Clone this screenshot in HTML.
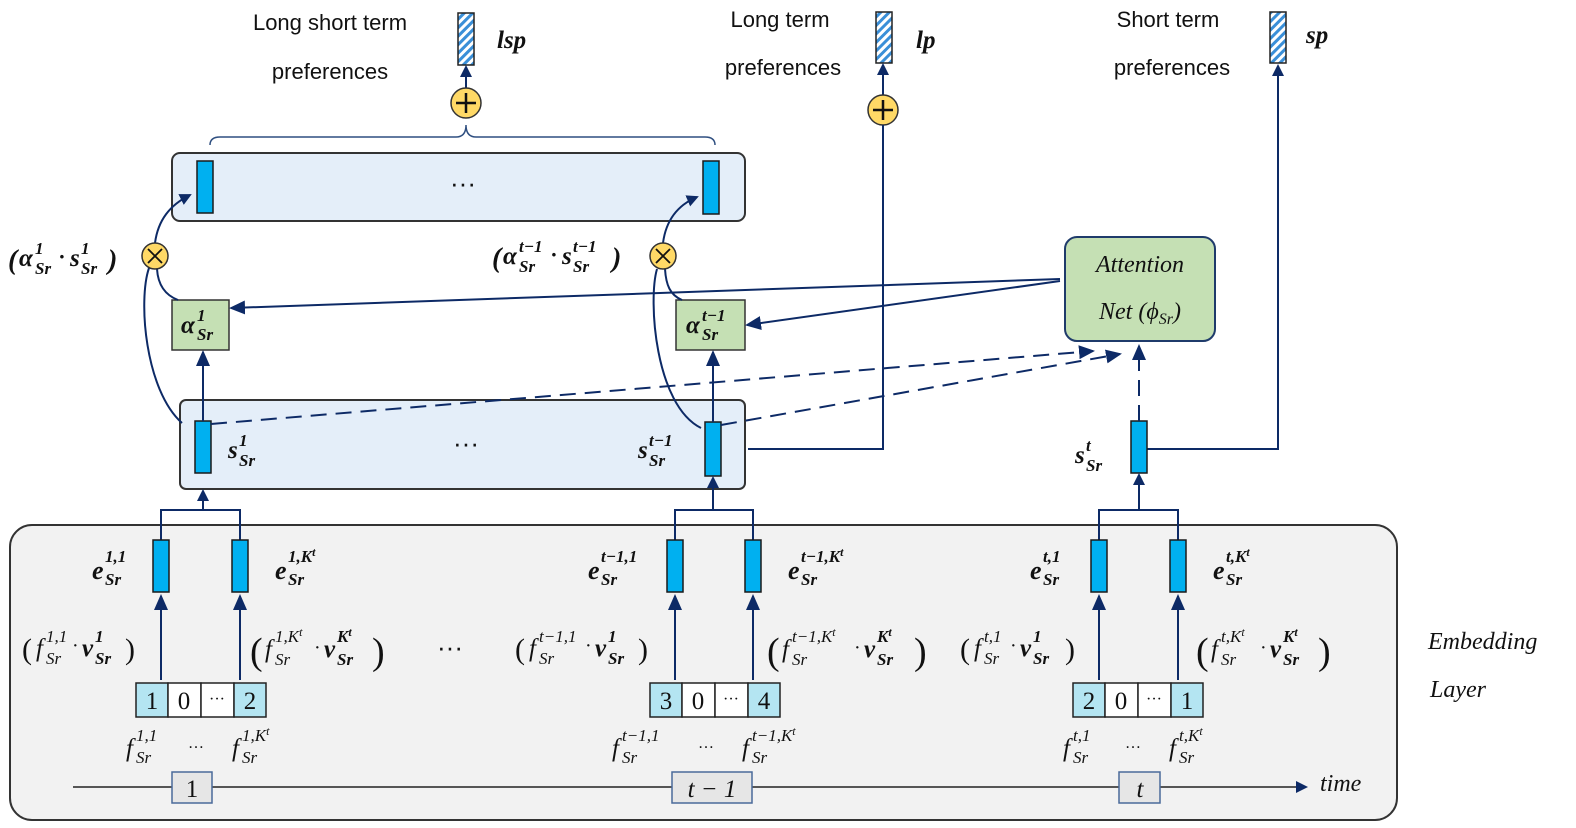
<!DOCTYPE html>
<html><head><meta charset="utf-8"><style>
html,body{margin:0;padding:0;background:#fff}
svg{display:block}
.t{font-family:"Liberation Sans",sans-serif;font-size:22px;fill:#111}
.m{font-family:"Liberation Serif",serif;font-style:italic;fill:#111}
.b{font-weight:bold}
.n{stroke:#0d2a66;stroke-width:2;fill:none}
.bar{fill:#00b0f0;stroke:#1a1a1a;stroke-width:1.5}
</style></head><body>
<svg width="1576" height="828" viewBox="0 0 1576 828" xmlns="http://www.w3.org/2000/svg">
<defs>
<marker id="a" markerWidth="12" markerHeight="12" refX="10" refY="6" orient="auto" markerUnits="userSpaceOnUse">
<path d="M0,0 L12,6 L0,12 z" fill="#0d2a66"/></marker>
<marker id="a2" markerWidth="16" markerHeight="14" refX="14" refY="7" orient="auto" markerUnits="userSpaceOnUse">
<path d="M0,0 L16,7 L0,14 z" fill="#0d2a66"/></marker>
<pattern id="h" width="6" height="6" patternUnits="userSpaceOnUse" patternTransform="rotate(45)">
<rect width="6" height="6" fill="#fff"/><rect width="3" height="6" fill="#3a8fd8"/></pattern>
</defs>

<rect x="10" y="525" width="1387" height="295" rx="22" fill="#f2f2f2" stroke="#333" stroke-width="2"/>

<text class="t" x="330" y="30" text-anchor="middle">Long short term</text>
<text class="t" x="330" y="79" text-anchor="middle">preferences</text>
<text class="t" x="780" y="27" text-anchor="middle">Long term</text>
<text class="t" x="783" y="75" text-anchor="middle">preferences</text>
<text class="t" x="1168" y="27" text-anchor="middle">Short term</text>
<text class="t" x="1172" y="75" text-anchor="middle">preferences</text>

<rect x="458" y="13" width="16" height="52" fill="url(#h)" stroke="#222" stroke-width="1.5"/>
<rect x="876" y="12" width="16" height="51" fill="url(#h)" stroke="#222" stroke-width="1.5"/>
<rect x="1270" y="12" width="16" height="51" fill="url(#h)" stroke="#222" stroke-width="1.5"/>
<text class="m b" x="497" y="48" font-size="25">lsp</text>
<text class="m b" x="916" y="48" font-size="25">lp</text>
<text class="m b" x="1306" y="43" font-size="25">sp</text>

<line class="n" x1="466" y1="88" x2="466" y2="67" marker-end="url(#a)"/>
<circle cx="466" cy="103" r="15" fill="#ffd966" stroke="#333" stroke-width="1.5"/>
<path d="M456,103 H476 M466,93 V113" stroke="#111" stroke-width="2.5"/>
<line class="n" x1="883" y1="95" x2="883" y2="65" marker-end="url(#a)"/>
<circle cx="883" cy="110" r="15" fill="#ffd966" stroke="#333" stroke-width="1.5"/>
<path d="M873,110 H893 M883,100 V120" stroke="#111" stroke-width="2.5"/>
<path d="M210,145 Q210,137 220,137 L456,137 Q466,137 466,125 Q466,137 476,137 L705,137 Q715,137 715,145" stroke="#2f4f80" stroke-width="1.5" fill="none"/>

<polyline class="n" points="748,449 883,449 883,125"/>
<polyline class="n" points="1147,449 1278,449 1278,66" marker-end="url(#a)"/>

<rect x="172" y="153" width="573" height="68" rx="8" fill="#e4eef9" stroke="#333" stroke-width="2"/>
<rect class="bar" x="197" y="161" width="16" height="52"/>
<rect class="bar" x="703" y="161" width="16" height="53"/>
<text x="463" y="192" font-size="26" text-anchor="middle" font-family="Liberation Sans" fill="#111">···</text>

<rect x="180" y="400" width="565" height="89" rx="6" fill="#e4eef9" stroke="#333" stroke-width="2"/>
<rect class="bar" x="195" y="421" width="16" height="52"/>
<rect class="bar" x="705" y="422" width="16" height="54"/>
<text x="466" y="452" font-size="26" text-anchor="middle" font-family="Liberation Sans" fill="#111">···</text>
<rect class="bar" x="1131" y="421" width="16" height="52"/>

<rect x="172" y="300" width="57" height="50" fill="#c5e0b4" stroke="#333" stroke-width="1.5"/>
<rect x="676" y="300" width="69" height="50" fill="#c5e0b4" stroke="#333" stroke-width="1.5"/>
<text class="m b" x="181" y="333" font-size="25">α</text><text class="m b" x="197" y="321" font-size="17">1</text><text class="m b" x="197" y="340" font-size="17">Sr</text>
<text class="m b" x="686" y="333" font-size="25">α</text><text class="m b" x="702" y="321" font-size="17">t−1</text><text class="m b" x="702" y="340" font-size="17">Sr</text>

<rect x="1065" y="237" width="150" height="104" rx="12" fill="#c5e0b4" stroke="#1f3b6b" stroke-width="2"/>
<text class="m" x="1140" y="272" font-size="24" text-anchor="middle">Attention</text>
<text class="m" x="1140" y="319" font-size="24" text-anchor="middle">Net (ϕ<tspan font-size="16" dy="5">Sr</tspan><tspan dy="-5">)</tspan></text>

<line class="n" x1="1060" y1="279" x2="231" y2="308" marker-end="url(#a2)"/>
<line class="n" x1="1060" y1="281" x2="747" y2="325" marker-end="url(#a2)"/>

<line class="n" x1="203" y1="421" x2="203" y2="352" marker-end="url(#a2)"/>
<line class="n" x1="713" y1="422" x2="713" y2="352" marker-end="url(#a2)"/>

<line class="n" x1="211" y1="424" x2="1093" y2="351" stroke-dasharray="16,9" marker-end="url(#a2)"/>
<line class="n" x1="721" y1="425" x2="1120" y2="354" stroke-dasharray="16,9" marker-end="url(#a2)"/>
<line class="n" x1="1139" y1="421" x2="1139" y2="346" stroke-dasharray="16,9" marker-end="url(#a2)"/>

<path class="n" d="M182,423 C145,390 138,300 149,268" stroke-width="1.3"/>
<path class="n" d="M178,300 C165,295 158,285 157,269" stroke-width="1.3"/>
<path class="n" d="M155,243 C158,220 170,205 190,195" stroke-width="1.5" marker-end="url(#a)"/>
<circle cx="155" cy="256" r="13" fill="#ffd966" stroke="#333" stroke-width="1.5"/>
<path d="M148,249 L162,263 M162,249 L148,263" stroke="#111" stroke-width="1.8"/>
<path class="n" d="M701,428 C655,405 648,300 657,269" stroke-width="1.3"/>
<path class="n" d="M682,300 C670,295 666,285 665,269" stroke-width="1.3"/>
<path class="n" d="M663,243 C666,220 678,205 697,197" stroke-width="1.5" marker-end="url(#a)"/>
<circle cx="663" cy="256" r="13" fill="#ffd966" stroke="#333" stroke-width="1.5"/>
<path d="M656,249 L670,263 M670,249 L656,263" stroke="#111" stroke-width="1.8"/>

<text class="m b" x="8" y="269" font-size="28" font-style="normal">(</text>
<text class="m b" x="19" y="266" font-size="25">α</text><text class="m b" x="35" y="254" font-size="17">1</text><text class="m b" x="35" y="274" font-size="17">Sr</text>
<text class="m b" x="59" y="264" font-size="22">·</text>
<text class="m b" x="70" y="266" font-size="25">s</text><text class="m b" x="81" y="254" font-size="17">1</text><text class="m b" x="81" y="274" font-size="17">Sr</text>
<text class="m b" x="108" y="269" font-size="28" font-style="normal">)</text>

<text class="m b" x="492" y="267" font-size="28" font-style="normal">(</text>
<text class="m b" x="503" y="264" font-size="25">α</text><text class="m b" x="519" y="252" font-size="17">t−1</text><text class="m b" x="519" y="272" font-size="17">Sr</text>
<text class="m b" x="551" y="262" font-size="22">·</text>
<text class="m b" x="562" y="264" font-size="25">s</text><text class="m b" x="573" y="252" font-size="17">t−1</text><text class="m b" x="573" y="272" font-size="17">Sr</text>
<text class="m b" x="612" y="267" font-size="28" font-style="normal">)</text>

<text class="m b" x="228" y="458" font-size="25">s</text><text class="m b" x="239" y="446" font-size="17">1</text><text class="m b" x="239" y="466" font-size="17">Sr</text>
<text class="m b" x="638" y="458" font-size="25">s</text><text class="m b" x="649" y="446" font-size="17">t−1</text><text class="m b" x="649" y="466" font-size="17">Sr</text>
<text class="m b" x="1075" y="463" font-size="25">s</text><text class="m b" x="1086" y="451" font-size="17">t</text><text class="m b" x="1086" y="471" font-size="17">Sr</text>

<polyline class="n" points="161,540 161,510 240,510 240,540"/>
<line class="n" x1="203" y1="510" x2="203" y2="491" marker-end="url(#a)"/>
<polyline class="n" points="675,540 675,510 753,510 753,540"/>
<line class="n" x1="713" y1="510" x2="713" y2="478" marker-end="url(#a)"/>
<polyline class="n" points="1099,540 1099,510 1178,510 1178,540"/>
<line class="n" x1="1139" y1="510" x2="1139" y2="475" marker-end="url(#a)"/>

<rect class="bar" x="153" y="540" width="16" height="52"/>
<rect class="bar" x="232" y="540" width="16" height="52"/>
<rect class="bar" x="667" y="540" width="16" height="52"/>
<rect class="bar" x="745" y="540" width="16" height="52"/>
<rect class="bar" x="1091" y="540" width="16" height="52"/>
<rect class="bar" x="1170" y="540" width="16" height="52"/>

<line class="n" x1="161" y1="680" x2="161" y2="596" marker-end="url(#a2)"/>
<line class="n" x1="240" y1="680" x2="240" y2="596" marker-end="url(#a2)"/>
<line class="n" x1="675" y1="680" x2="675" y2="596" marker-end="url(#a2)"/>
<line class="n" x1="753" y1="680" x2="753" y2="596" marker-end="url(#a2)"/>
<line class="n" x1="1099" y1="680" x2="1099" y2="596" marker-end="url(#a2)"/>
<line class="n" x1="1178" y1="680" x2="1178" y2="596" marker-end="url(#a2)"/>

<text class="m b" x="92" y="579" font-size="26">e</text><text class="m b" x="105" y="562" font-size="17">1,1</text><text class="m b" x="105" y="585" font-size="17">Sr</text>
<text class="m b" x="275" y="579" font-size="26">e</text><text class="m b" x="288" y="562" font-size="17">1,K<tspan font-size="12" dy="-6">t</tspan></text><text class="m b" x="288" y="585" font-size="17">Sr</text>
<text class="m b" x="588" y="579" font-size="26">e</text><text class="m b" x="601" y="562" font-size="17">t−1,1</text><text class="m b" x="601" y="585" font-size="17">Sr</text>
<text class="m b" x="788" y="579" font-size="26">e</text><text class="m b" x="801" y="562" font-size="17">t−1,K<tspan font-size="12" dy="-6">t</tspan></text><text class="m b" x="801" y="585" font-size="17">Sr</text>
<text class="m b" x="1030" y="579" font-size="26">e</text><text class="m b" x="1043" y="562" font-size="17">t,1</text><text class="m b" x="1043" y="585" font-size="17">Sr</text>
<text class="m b" x="1213" y="579" font-size="26">e</text><text class="m b" x="1226" y="562" font-size="17">t,K<tspan font-size="12" dy="-6">t</tspan></text><text class="m b" x="1226" y="585" font-size="17">Sr</text>

<g font-family="Liberation Serif" font-style="italic" fill="#111">
<text x="22" y="659" font-size="30" font-style="normal">(</text>
<text x="36" y="656" font-size="25">f</text><text x="46" y="642" font-size="17">1,1</text><text x="46" y="664" font-size="17">Sr</text>
<text x="72" y="652" font-size="20" font-style="normal">·</text>
<text x="82" y="656" font-size="25" font-weight="bold">v</text><text x="95" y="642" font-size="17" font-weight="bold">1</text><text x="95" y="664" font-size="17" font-weight="bold">Sr</text>
<text x="125" y="659" font-size="30" font-style="normal">)</text>

<text x="250" y="664" font-size="38" font-style="normal">(</text>
<text x="265" y="657" font-size="25">f</text><text x="275" y="642" font-size="17">1,K<tspan font-size="12" dy="-6">t</tspan></text><text x="275" y="665" font-size="17">Sr</text>
<text x="314" y="654" font-size="20" font-style="normal">·</text>
<text x="324" y="657" font-size="25" font-weight="bold">v</text><text x="337" y="642" font-size="17" font-weight="bold">K<tspan font-size="12" dy="-6">t</tspan></text><text x="337" y="665" font-size="17" font-weight="bold">Sr</text>
<text x="372" y="664" font-size="38" font-style="normal">)</text>

<text x="515" y="659" font-size="30" font-style="normal">(</text>
<text x="529" y="656" font-size="25">f</text><text x="539" y="642" font-size="17">t−1,1</text><text x="539" y="664" font-size="17">Sr</text>
<text x="585" y="652" font-size="20" font-style="normal">·</text>
<text x="595" y="656" font-size="25" font-weight="bold">v</text><text x="608" y="642" font-size="17" font-weight="bold">1</text><text x="608" y="664" font-size="17" font-weight="bold">Sr</text>
<text x="638" y="659" font-size="30" font-style="normal">)</text>

<text x="767" y="664" font-size="38" font-style="normal">(</text>
<text x="782" y="657" font-size="25">f</text><text x="792" y="642" font-size="17">t−1,K<tspan font-size="12" dy="-6">t</tspan></text><text x="792" y="665" font-size="17">Sr</text>
<text x="854" y="654" font-size="20" font-style="normal">·</text>
<text x="864" y="657" font-size="25" font-weight="bold">v</text><text x="877" y="642" font-size="17" font-weight="bold">K<tspan font-size="12" dy="-6">t</tspan></text><text x="877" y="665" font-size="17" font-weight="bold">Sr</text>
<text x="914" y="664" font-size="38" font-style="normal">)</text>

<text x="960" y="659" font-size="30" font-style="normal">(</text>
<text x="974" y="656" font-size="25">f</text><text x="984" y="642" font-size="17">t,1</text><text x="984" y="664" font-size="17">Sr</text>
<text x="1010" y="652" font-size="20" font-style="normal">·</text>
<text x="1020" y="656" font-size="25" font-weight="bold">v</text><text x="1033" y="642" font-size="17" font-weight="bold">1</text><text x="1033" y="664" font-size="17" font-weight="bold">Sr</text>
<text x="1065" y="659" font-size="30" font-style="normal">)</text>

<text x="1196" y="664" font-size="38" font-style="normal">(</text>
<text x="1211" y="657" font-size="25">f</text><text x="1221" y="642" font-size="17">t,K<tspan font-size="12" dy="-6">t</tspan></text><text x="1221" y="665" font-size="17">Sr</text>
<text x="1260" y="654" font-size="20" font-style="normal">·</text>
<text x="1270" y="657" font-size="25" font-weight="bold">v</text><text x="1283" y="642" font-size="17" font-weight="bold">K<tspan font-size="12" dy="-6">t</tspan></text><text x="1283" y="665" font-size="17" font-weight="bold">Sr</text>
<text x="1318" y="664" font-size="38" font-style="normal">)</text>

<text x="126" y="756" font-size="25">f</text><text x="136" y="741" font-size="17">1,1</text><text x="136" y="763" font-size="17">Sr</text>
<text x="188" y="748" font-size="16" font-style="normal">…</text>
<text x="232" y="756" font-size="25">f</text><text x="242" y="741" font-size="17">1,K<tspan font-size="12" dy="-6">t</tspan></text><text x="242" y="763" font-size="17">Sr</text>
<text x="612" y="756" font-size="25">f</text><text x="622" y="741" font-size="17">t−1,1</text><text x="622" y="763" font-size="17">Sr</text>
<text x="698" y="748" font-size="16" font-style="normal">…</text>
<text x="742" y="756" font-size="25">f</text><text x="752" y="741" font-size="17">t−1,K<tspan font-size="12" dy="-6">t</tspan></text><text x="752" y="763" font-size="17">Sr</text>
<text x="1063" y="756" font-size="25">f</text><text x="1073" y="741" font-size="17">t,1</text><text x="1073" y="763" font-size="17">Sr</text>
<text x="1125" y="748" font-size="16" font-style="normal">…</text>
<text x="1169" y="756" font-size="25">f</text><text x="1179" y="741" font-size="17">t,K<tspan font-size="12" dy="-6">t</tspan></text><text x="1179" y="763" font-size="17">Sr</text>

<text x="1428" y="649" font-size="24">Embedding</text>
<text x="1430" y="697" font-size="24">Layer</text>
<text x="1320" y="791" font-size="24">time</text>
</g>
<text x="450" y="656" font-size="26" text-anchor="middle" font-family="Liberation Sans" fill="#111">···</text>

<g stroke="#222" stroke-width="1.5">
<rect x="136" y="683" width="32" height="34" fill="#b4e5f2"/><rect x="168" y="683" width="33" height="34" fill="#fff"/><rect x="201" y="683" width="33" height="34" fill="#fff"/><rect x="234" y="683" width="32" height="34" fill="#b4e5f2"/>
<rect x="650" y="683" width="32" height="34" fill="#b4e5f2"/><rect x="682" y="683" width="33" height="34" fill="#fff"/><rect x="715" y="683" width="33" height="34" fill="#fff"/><rect x="748" y="683" width="32" height="34" fill="#b4e5f2"/>
<rect x="1073" y="683" width="32" height="34" fill="#b4e5f2"/><rect x="1105" y="683" width="33" height="34" fill="#fff"/><rect x="1138" y="683" width="33" height="34" fill="#fff"/><rect x="1171" y="683" width="32" height="34" fill="#b4e5f2"/>
</g>
<g font-family="Liberation Serif" font-size="25" fill="#111" text-anchor="middle">
<text x="152" y="709">1</text><text x="184" y="709">0</text><text x="217" y="704" font-size="16">···</text><text x="250" y="709">2</text>
<text x="666" y="709">3</text><text x="698" y="709">0</text><text x="731" y="704" font-size="16">···</text><text x="764" y="709">4</text>
<text x="1089" y="709">2</text><text x="1121" y="709">0</text><text x="1154" y="704" font-size="16">···</text><text x="1187" y="709">1</text>
</g>

<line x1="73" y1="787" x2="1306" y2="787" stroke="#222" stroke-width="1.5" marker-end="url(#a)"/>
<g stroke="#4a6a9a" stroke-width="1.5" fill="#e6e6e6">
<rect x="172" y="772" width="40" height="31"/>
<rect x="672" y="772" width="80" height="31"/>
<rect x="1119" y="772" width="41" height="31"/>
</g>
<g font-family="Liberation Serif" font-size="25" fill="#111" text-anchor="middle">
<text x="192" y="797">1</text>
<text x="712" y="797" font-style="italic">t − 1</text>
<text x="1140" y="797" font-style="italic">t</text>
</g>
</svg>
</body></html>
